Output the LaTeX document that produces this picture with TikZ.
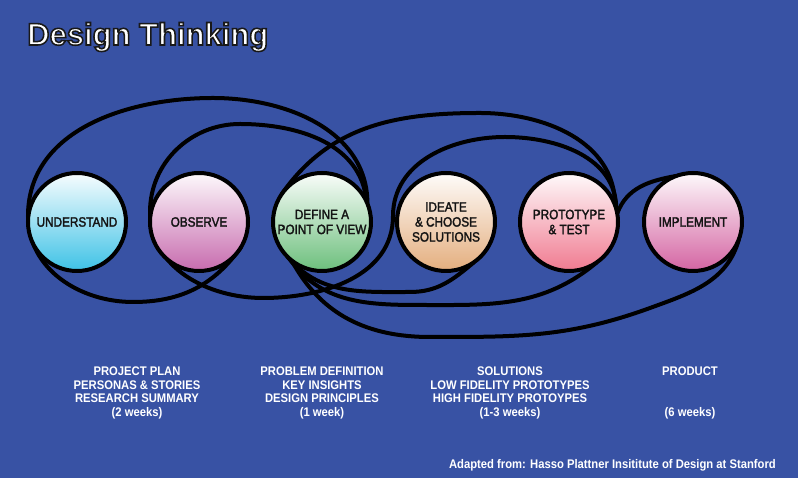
\documentclass[tikz,border=0pt]{standalone}
\usepackage{fontspec}
\setmainfont{Liberation Sans}
\newfontfamily\labelfont[FakeStretch=0.87,FakeBold=2]{Liberation Sans}
\newfontfamily\notefont[FakeStretch=0.9]{Liberation Sans}
\newfontfamily\titlefont[FakeBold=5]{Liberation Sans Bold}
\pgfdeclarelayer{bglayer}
\pgfdeclarelayer{looplayer}
\pgfsetlayers{bglayer,looplayer,main}
\definecolor{bgblue}{HTML}{3852A4}
\definecolor{cU}{HTML}{3EC2E6}
\definecolor{cO}{HTML}{C76BAE}
\definecolor{cD}{HTML}{6CBF7C}
\definecolor{cI}{HTML}{E4AE7E}
\definecolor{cP}{HTML}{F07A90}
\definecolor{cM}{HTML}{D464A2}
\definecolor{ink}{HTML}{141414}
\begin{document}
\begin{tikzpicture}[x=1pt,y=1pt,
  stage/.style={circle, draw=black, line width=4pt, minimum size=98pt,
    inner sep=0pt, outer sep=0pt, align=center, text=ink,
    font=\labelfont\fontsize{13.5}{15}\selectfont},
  loopline/.style={draw=black, line width=4pt},
  note/.style={anchor=base, text=white, inner sep=0pt,
    font=\notefont\bfseries\fontsize{12.5}{13.6}\selectfont}]
\useasboundingbox (0,0) rectangle (798,478);
\begin{pgfonlayer}{bglayer}
  \fill[bgblue] (0,0) rectangle (798,478);
\end{pgfonlayer}

% title: white fill, dark stroke
\node[anchor=base west, inner sep=0pt, text=white,
  font=\titlefont\fontsize{31}{36}\selectfont] (title) at (27,433)
  {\special{pdf:literal direct 0.1 0.1 0.1 RG}Design Thinking};

% stages
\node[stage, top color=cU!4!white, bottom color=cU] (u) at (77,256) {UNDERSTAND};
\node[stage, top color=cO!4!white, bottom color=cO] (o) at (199,256) {OBSERVE};
\node[stage, top color=cD!4!white, bottom color=cD] (d) at (322,256) {DEFINE A\\POINT OF VIEW};
\node[stage, top color=cI!4!white, bottom color=cI] (i) at (446,256) {IDEATE\\\&\ CHOOSE\\SOLUTIONS};
\node[stage, top color=cP!4!white, bottom color=cP] (p) at (569,256) {PROTOTYPE\\\&\ TEST};
\node[stage, top color=cM!4!white, bottom color=cM] (m) at (693,256) {IMPLEMENT};

% waypoints of the loops
\coordinate (a1) at (213,380);
\coordinate (a2) at (28,262);
\coordinate (a3) at (133,176);
\coordinate (b1) at (240,354);
\coordinate (b2) at (150,266);
\coordinate (b3) at (263,180);
\coordinate (b4) at (393,262);
\coordinate (b5) at (505,341);
\coordinate (c1) at (480,365);
\coordinate (f1) at (410,186);
\coordinate (f2) at (420,173);
\coordinate (f3) at (430,141);
\coordinate (f4) at (650,170);

\begin{pgfonlayer}{looplayer}
  \draw[loopline] (d.22) to[out=90,in=0] (a1) to[out=180,in=90] (a2)
    to[out=270,in=180] (a3) to[out=0,in=235] (o.-30);
  \draw[loopline] (d.25) to[out=95,in=0] (b1) to[out=180,in=90] (b2)
    to[out=270,in=180] (b3) to[out=0,in=270] (b4) to[out=90,in=180] (b5)
    to[out=0,in=90] (p.15);
  \draw[loopline] (d.145) to[out=55,in=180] (c1) to[out=0,in=90] (p.20);
  \draw[loopline] (d.225) to[out=-50,in=180] (f1) to[out=0,in=220] (i.-55);
  \draw[loopline] (d.228) to[out=-55,in=180] (f2) to[out=0,in=220] (p.-55);
  \draw[loopline] (d.232) to[out=-62,in=180] (f3) to[out=0,in=200] (f4)
    to[out=20,in=255] (m.-20);
  \draw[loopline] (p.10) to[out=70,in=190] (m.110);
\end{pgfonlayer}

% deliverables
\node[note] (n1a) at (137,102) {PROJECT PLAN};
\node[note] (n1b) at (137,88.5) {PERSONAS \& STORIES};
\node[note] (n1c) at (137,75) {RESEARCH SUMMARY};
\node[note] (n1d) at (137,61.5) {(2 weeks)};
\node[note] (n2a) at (322,102) {PROBLEM DEFINITION};
\node[note] (n2b) at (322,88.5) {KEY INSIGHTS};
\node[note] (n2c) at (322,75) {DESIGN PRINCIPLES};
\node[note] (n2d) at (322,61.5) {(1 week)};
\node[note] (n3a) at (510,102) {SOLUTIONS};
\node[note] (n3b) at (510,88.5) {LOW FIDELITY PROTOTYPES};
\node[note] (n3c) at (510,75) {HIGH FIDELITY PROTOYPES};
\node[note] (n3d) at (510,61.5) {(1-3 weeks)};
\node[note] (n4a) at (690,102) {PRODUCT};
\node[note] (n4d) at (690,61.5) {(6 weeks)};

\node[note, anchor=base east] (src) at (776,9)
  {Adapted from: Hasso Plattner Insititute of Design at Stanford};
\end{tikzpicture}
\end{document}
